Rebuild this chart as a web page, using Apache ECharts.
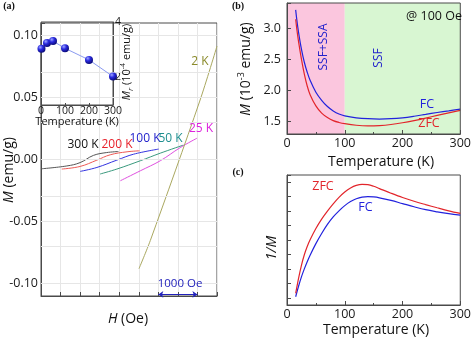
<!DOCTYPE html>
<html><head><meta charset="utf-8">
<script src="https://cdn.jsdelivr.net/npm/echarts@6/dist/echarts.min.js"></script>
<style>html,body{margin:0;padding:0;background:#fff}#c{width:474px;height:338px}</style>
</head><body><div id="c"></div>
<script>
// ---------- Panel (a): M-H segments (H offset, Oe ; M, emu/g) ----------
const h300 = [0, 660, 1000, 1340, 1680, 1980];
const m300 = [-0.0075, -0.0052, -0.0025, 0.0033, 0.0056, 0.0064];
const h200 = [530, 1000, 1430, 1770, 2200, 2520];
const m200 = [-0.0077, -0.0056, -0.0005, 0.0038, 0.0062, 0.0070];
const h100 = [1000, 1430, 1940, 2370, 3010];
const m100 = [-0.0096, -0.0064, -0.0005, 0.0043, 0.0084];
const h50 = [1510, 1940, 2540, 3050, 3640];
const m50 = [-0.0117, -0.0077, -0.0010, 0.0051, 0.0116];
const h25 = [2030, 2540, 3050, 3560, 3990];
const m25 = [-0.0171, -0.0091, -0.0010, 0.0096, 0.0172];
const h2 = [2505, 2795, 4059, 4500];
const m2 = [-0.088, -0.0653, 0.0471, 0.0914];
const mGridValues = [-0.1, -0.075, -0.05, -0.025, 0, 0.025, 0.05, 0.075, 0.1];
const scaleBarH = [3000, 4000];
const scaleBarM = -0.1087;

// Inset: remanent magnetization vs temperature
const insetT = [2, 25, 50, 100, 200, 300];
const insetMr = [3.03, 3.24, 3.31, 3.05, 2.63, 2.03];

// ---------- Panel (b): M(T) at 100 Oe ----------
const tB = [15, 17, 20, 25, 30, 35, 40, 50, 60, 70, 80, 90, 100, 120, 140, 160, 180, 200, 220, 240, 260, 280, 300];
const fcB = [3.29, 3.13, 2.93, 2.66, 2.45, 2.29, 2.16, 1.97, 1.84, 1.74, 1.67, 1.62, 1.59, 1.56, 1.545, 1.54, 1.545, 1.56, 1.585, 1.615, 1.645, 1.672, 1.70];
const zfcB = [3.14, 2.98, 2.78, 2.50, 2.26, 2.07, 1.93, 1.75, 1.635, 1.565, 1.515, 1.485, 1.465, 1.44, 1.43, 1.435, 1.452, 1.48, 1.515, 1.555, 1.598, 1.64, 1.68];
const regionBounds = [0, 100, 300];

// ---------- Panel (c): 1/M (arb. units) ----------
const tC = [15, 20, 25, 30, 35, 40, 50, 60, 70, 80, 90, 100, 110, 120, 130, 140, 150, 160, 180, 200, 220, 240, 260, 280, 300];
const zfcC = [1.31, 2.35, 3.25, 3.98, 4.55, 5.02, 5.8, 6.45, 7.0, 7.5, 7.95, 8.32, 8.6, 8.78, 8.85, 8.83, 8.72, 8.56, 8.24, 7.94, 7.68, 7.45, 7.23, 7.02, 6.84];
const fcC = [1.07, 1.8, 2.45, 3.0, 3.5, 3.95, 4.75, 5.45, 6.08, 6.6, 7.02, 7.38, 7.66, 7.86, 7.97, 8.0, 7.98, 7.92, 7.74, 7.52, 7.3, 7.1, 6.95, 6.82, 6.72];

const zip = (a, b) => a.map((v, i) => [v, b[i]]);
const FONT = '"Open Sans", "DejaVu Sans", sans-serif';
const AX = '#4a4a4a';
const BLUE = '#2222dd', RED = '#e2252b';

function axisBase(o) {
  return Object.assign({
    type: 'value',
    axisLine: { show: true, onZero: false, lineStyle: { color: AX, width: 1 } },
    axisTick: { show: true, inside: true, length: 4, lineStyle: { color: AX } },
    axisLabel: { color: '#1a1a1a', fontFamily: FONT, fontSize: 12.5 },
    splitLine: { show: false }
  }, o);
}

const chart = echarts.init(document.getElementById('c'));

const option = {
  animation: false,
  backgroundColor: '#fff',
  grid: [
    { left: 41, top: 23, width: 176, height: 273, show: true, borderColor: AX, borderWidth: 1, backgroundColor: 'transparent' },
    { left: 41, top: 22, width: 72, height: 83, show: true, borderColor: AX, borderWidth: 1, backgroundColor: 'transparent', z: 3 },
    { left: 287, top: 3, width: 178, height: 131, show: true, borderColor: AX, borderWidth: 1, backgroundColor: 'transparent', z: 5 },
    { left: 287, top: 175, width: 178, height: 130, show: true, borderColor: AX, borderWidth: 1, backgroundColor: 'transparent' }
  ],
  xAxis: [
    axisBase({ gridIndex: 0, min: 0, max: 4500, interval: 500, axisLabel: { show: false },
      splitLine: { show: true, lineStyle: { color: '#e6e6e6', width: 1 } } }),
    axisBase({ gridIndex: 1, min: 0, max: 300, interval: 100, z: 3,
      axisTick: { show: true, inside: true, length: 2, lineStyle: { color: AX } },
      axisLabel: { color: '#1a1a1a', fontFamily: FONT, fontSize: 10.5, margin: 1 } }),
    axisBase({ gridIndex: 2, min: 0, max: 300, interval: 100, z: 5,
      minorTick: { show: true, splitNumber: 2, length: 2, lineStyle: { color: AX } },
      axisLabel: { color: '#1a1a1a', fontFamily: FONT, fontSize: 12.5, margin: 3 } }),
    axisBase({ gridIndex: 3, min: 0, max: 300, interval: 100,
      minorTick: { show: true, splitNumber: 2, length: 2, lineStyle: { color: AX } },
      axisLabel: { color: '#1a1a1a', fontFamily: FONT, fontSize: 12.5, margin: 3 } })
  ],
  yAxis: [
    axisBase({ gridIndex: 0, min: -0.11, max: 0.11,
      axisLabel: { color: '#1a1a1a', fontFamily: FONT, fontSize: 12.5, margin: 3,
        formatter: v => Math.abs(v * 20 - Math.round(v * 20)) < 1e-6 ? v.toFixed(2) : '' } }),
    axisBase({ gridIndex: 1, position: 'right', min: 1, max: 4, interval: 1, z: 3,
      axisTick: { show: false },
      axisLabel: { color: '#1a1a1a', fontFamily: FONT, fontSize: 10.5, margin: 2,
        formatter: v => (v === 2 || v === 4) ? String(v) : '' } }),
    axisBase({ gridIndex: 2, min: 1.3, max: 3.4, z: 5,
      axisLabel: { color: '#1a1a1a', fontFamily: FONT, fontSize: 12.5, margin: 6,
        formatter: v => Math.abs(v * 2 - Math.round(v * 2)) < 1e-6 ? v.toFixed(1) : '' } }),
    axisBase({ gridIndex: 3, min: 0.5, max: 9.5, splitNumber: 9, axisLabel: { show: false } })
  ],
  series: [
    { type: 'line', xAxisIndex: 0, yAxisIndex: 0, data: [], z: 1, silent: true,
      markLine: { silent: true, symbol: ['none', 'none'], label: { show: false },
        lineStyle: { color: '#e6e6e6', width: 1, type: 'solid' },
        data: mGridValues.map(v => ({ yAxis: v })) } },
    { type: 'line', xAxisIndex: 0, yAxisIndex: 0, data: zip(h300, m300), smooth: 0.4, showSymbol: false, lineStyle: { color: '#555555', width: 1 } },
    { type: 'line', xAxisIndex: 0, yAxisIndex: 0, data: zip(h200, m200), smooth: 0.4, showSymbol: false, lineStyle: { color: '#ee5a55', width: 1 } },
    { type: 'line', xAxisIndex: 0, yAxisIndex: 0, data: zip(h100, m100), smooth: 0.4, showSymbol: false, lineStyle: { color: '#3333e0', width: 1 } },
    { type: 'line', xAxisIndex: 0, yAxisIndex: 0, data: zip(h50, m50), smooth: 0.4, showSymbol: false, lineStyle: { color: '#3a9a7e', width: 1 } },
    { type: 'line', xAxisIndex: 0, yAxisIndex: 0, data: zip(h25, m25), smooth: 0.4, showSymbol: false, lineStyle: { color: '#e050e0', width: 1 } },
    { type: 'line', xAxisIndex: 0, yAxisIndex: 0, data: zip(h2, m2), smooth: 0.3, showSymbol: false, lineStyle: { color: '#aaa860', width: 1 } },
    { type: 'line', xAxisIndex: 0, yAxisIndex: 0, data: [], z: 4, silent: true,
      markLine: { silent: true, symbol: ['arrow', 'arrow'], symbolSize: [5, 5], label: { show: false },
        lineStyle: { color: '#2222bb', width: 1, type: 'solid' },
        data: [[{ coord: [scaleBarH[0], scaleBarM] }, { coord: [scaleBarH[1], scaleBarM] }]] } },
    { type: 'line', xAxisIndex: 1, yAxisIndex: 1, data: zip(insetT, insetMr), z: 6,
      symbol: 'circle', symbolSize: 8, showSymbol: true,
      lineStyle: { color: '#8a9af0', width: 1 },
      itemStyle: { color: new echarts.graphic.RadialGradient(0.35, 0.3, 0.7, [
        { offset: 0, color: '#9fa8ff' }, { offset: 0.45, color: '#2a2ae0' }, { offset: 1, color: '#0c0c7a' }]) } },
    { type: 'line', xAxisIndex: 2, yAxisIndex: 2, data: [], z: 1, silent: true,
      markArea: { silent: true, data: [
        [{ xAxis: regionBounds[0], itemStyle: { color: '#fbc6de' } }, { xAxis: regionBounds[1] }],
        [{ xAxis: regionBounds[1], itemStyle: { color: '#d8f6d2' } }, { xAxis: regionBounds[2] }]] } },
    { type: 'line', xAxisIndex: 2, yAxisIndex: 2, data: zip(tB, fcB), smooth: 0.35, showSymbol: false, z: 3, lineStyle: { color: BLUE, width: 1.2 } },
    { type: 'line', xAxisIndex: 2, yAxisIndex: 2, data: zip(tB, zfcB), smooth: 0.35, showSymbol: false, z: 3, lineStyle: { color: RED, width: 1.2 } },
    { type: 'line', xAxisIndex: 3, yAxisIndex: 3, data: zip(tC, fcC), smooth: 0.35, showSymbol: false, lineStyle: { color: BLUE, width: 1.2 } },
    { type: 'line', xAxisIndex: 3, yAxisIndex: 3, data: zip(tC, zfcC), smooth: 0.35, showSymbol: false, lineStyle: { color: RED, width: 1.2 } }
  ]
};

function txt(text, x, y, o) {
  o = o || {};
  const style = {
    text: text, fill: o.color || '#111', fontFamily: o.family || FONT,
    fontSize: o.size || 12, fontWeight: o.weight || 'normal', fontStyle: o.fstyle || 'normal',
    align: 'center', verticalAlign: 'middle'
  };
  if (o.rich) style.rich = o.rich;
  return { type: 'text', x: x, y: y, rotation: o.rot || 0, z: 100, silent: true, style: style };
}
const R90 = Math.PI / 2;
const richAxis = (size) => ({
  i: { fontStyle: 'italic', fontSize: size, fontFamily: FONT, fill: '#111', lineHeight: size + 4 },
  n: { fontSize: size, fontFamily: FONT, fill: '#111', lineHeight: size + 4 },
  s: { fontSize: Math.round(size * 0.62), fontFamily: FONT, fill: '#111', verticalAlign: 'top', lineHeight: size * 0.7 }
});

option.graphic = [
  txt('(a)', 9, 6, { family: '"Liberation Serif", serif', weight: 'bold', size: 10 }),
  txt('(b)', 238, 6, { family: '"Liberation Serif", serif', weight: 'bold', size: 10 }),
  txt('(c)', 238, 172, { family: '"Liberation Serif", serif', weight: 'bold', size: 10 }),
  txt('{i|M}{n| (emu/g)}', 9, 170, { rot: R90, size: 14, rich: richAxis(14) }),
  txt('{i|H}{n| (Oe)}', 128, 319, { size: 14, rich: richAxis(14) }),
  txt('300 K', 83, 145, { color: '#111', size: 12 }),
  txt('200 K', 117, 145, { color: '#e8202a', size: 12 }),
  txt('100 K', 145, 139, { color: '#2222cc', size: 12 }),
  txt('50 K', 170.5, 139, { color: '#1f8f8f', size: 12 }),
  txt('25 K', 201, 129, { color: '#dd22dd', size: 12 }),
  txt('2 K', 200, 62, { color: '#8a8a2a', size: 12 }),
  txt('1000 Oe', 180, 284, { color: '#2222bb', size: 11.5 }),
  txt('Temperature (K)', 77, 122, { size: 11 }),
  txt('{i|M}{b|r}{n| (10}{s|-4}{n| emu/g)}', 127, 62, { rot: R90, size: 11, rich: {
    i: { fontStyle: 'italic', fontSize: 11, fontFamily: FONT, fill: '#111', lineHeight: 15 },
    n: { fontSize: 11, fontFamily: FONT, fill: '#111', lineHeight: 15 },
    b: { fontStyle: 'italic', fontSize: 8, fontFamily: FONT, fill: '#111', verticalAlign: 'bottom', lineHeight: 9 },
    s: { fontSize: 7, fontFamily: FONT, fill: '#111', verticalAlign: 'top', lineHeight: 8 } } }),
  txt('SSF+SSA', 324, 47, { rot: R90, color: '#2222cc', size: 12 }),
  txt('SSF', 379, 58, { rot: R90, color: '#2222cc', size: 12 }),
  txt('@ 100 Oe', 434, 16, { color: '#111', size: 12.5 }),
  txt('FC', 427, 104, { color: BLUE, size: 12.5 }),
  txt('ZFC', 429, 123, { color: RED, size: 12.5 }),
  txt('Temperature (K)', 381, 162, { size: 14 }),
  txt('{i|M}{n| (10}{s|-3}{n| emu/g)}', 246, 69, { rot: R90, size: 14, rich: richAxis(14) }),
  txt('ZFC', 323, 186, { color: RED, size: 12.5 }),
  txt('FC', 365.5, 207, { color: BLUE, size: 12.5 }),
  txt('Temperature (K)', 376, 330, { size: 14 }),
  txt('1/{i|M}', 272, 248, { rot: R90, size: 14, fstyle: 'italic', rich: richAxis(14) })
];

chart.setOption(option);
</script>
</body></html>
